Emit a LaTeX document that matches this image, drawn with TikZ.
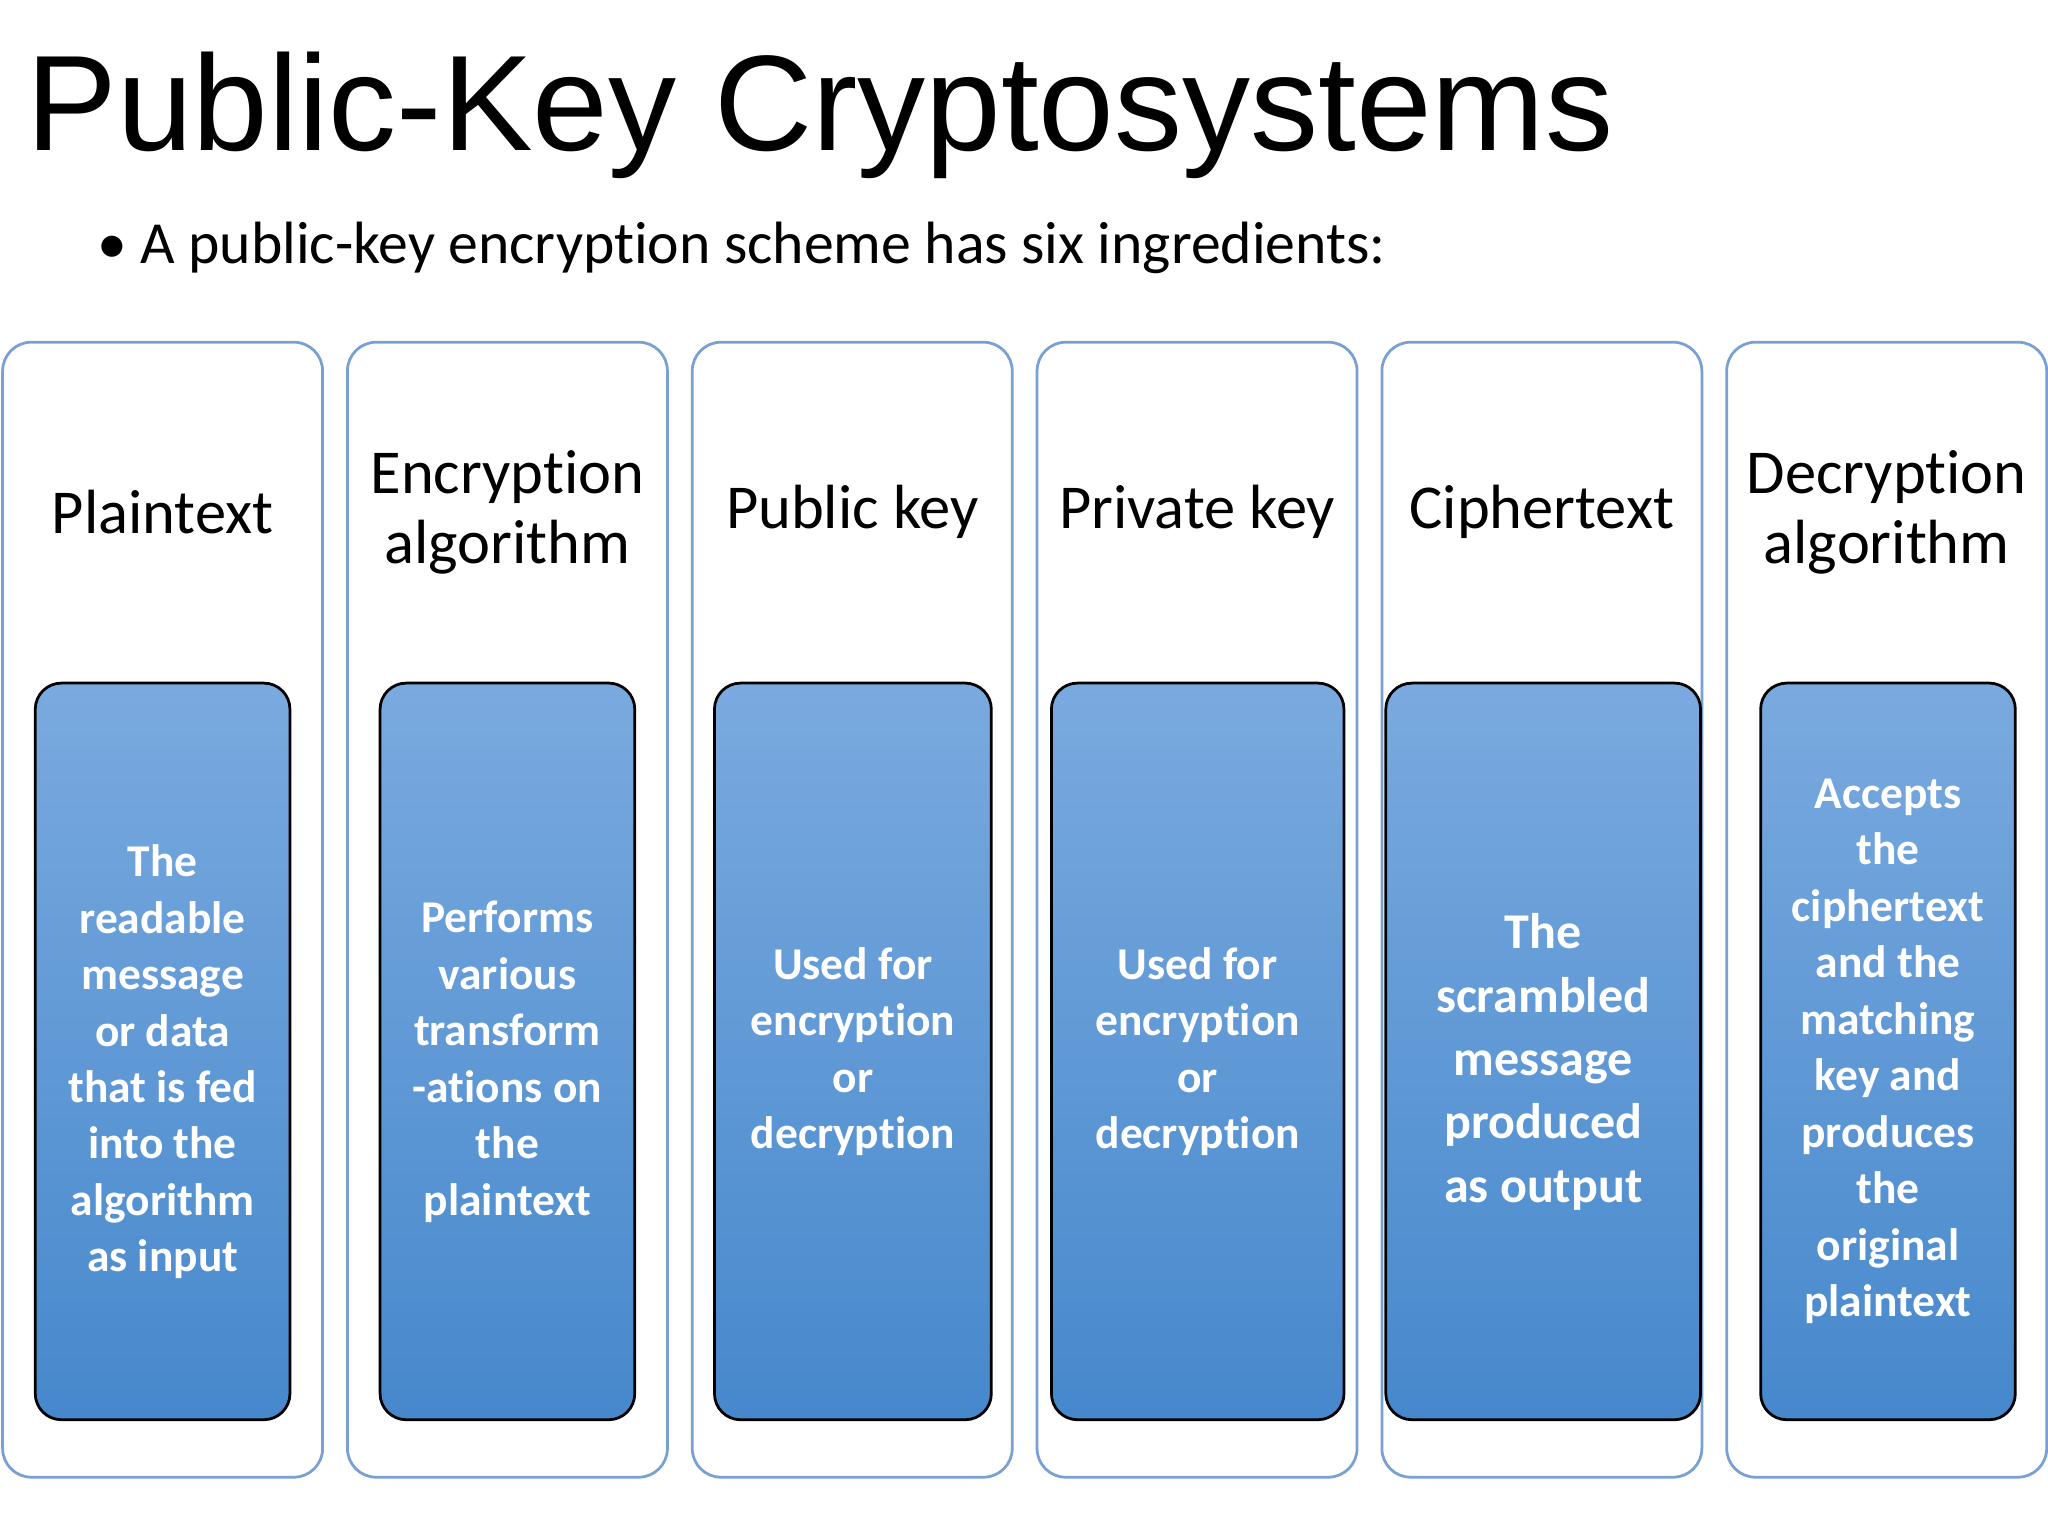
\documentclass[tikz,border=0pt]{standalone}
\usepackage{fontspec}
\usetikzlibrary{calc}
\setmainfont[Ligatures=NoCommon]{Carlito}
\newfontfamily\titlefont{Liberation Sans}
\begin{document}
\begin{tikzpicture}[x=0.01cm,y=-0.01cm,
  outerbox/.style={draw={rgb,255:red,120;green,160;blue,210}, line width=0.6pt, rounded corners=0.22cm},
  innerbox/.style={draw=black, line width=0.6pt, rounded corners=0.2cm, top color={rgb,255:red,122;green,170;blue,223}, bottom color={rgb,255:red,70;green,136;blue,204}},
  head/.style={align=center, font=\fontsize{13.6}{15.2}\selectfont},
  body/.style={align=center, text=white, font=\bfseries\fontsize{9.9}{12.3}\selectfont}]
\useasboundingbox[fill=white] (0,0) rectangle (1568,1176);
\node[anchor=west, font=\titlefont\fontsize{29.6}{34}\selectfont] (title) at (8,88) {Public-Key Cryptosystems};
\node[anchor=west, font=\fontsize{13}{15}\selectfont] (bullet) at (62,190) {\textbullet\ A public-key encryption scheme has six ingredients:};
\foreach \i/\xa/\xb/\ia/\ib in {1/2/247/27/222, 2/266/511/291/486, 3/530/775/547/759, 4/794/1039/805/1029, 5/1058/1303/1061/1302, 6/1322/1567/1348/1543}{
  \draw[outerbox] (\xa,262) rectangle (\xb,1131);
  \draw[innerbox] (\ia,523) rectangle (\ib,1087);
  \coordinate (h\i) at ({(\xa+\xb)/2},392);
  \coordinate (b\i) at ({(\ia+\ib)/2},805);
}
\node[head] (t1) at (h1) {Plaintext};
\node[head] (t2) at (h2) {Encryption\\algorithm};
\node[head] (t3) at (h3) {Public key};
\node[head] (t4) at (h4) {Private key};
\node[head] (t5) at (h5) {Ciphertext};
\node[head] (t6) at (h6) {Decryption\\algorithm};
\node[body] (d1) at ($(b1)+(0,8)$) {The\\readable\\message\\or data\\that is fed\\into the\\algorithm\\as input};
\node[body] (d2) at ($(b2)+(0,8)$) {Performs\\various\\transform\\-ations on\\the\\plaintext};
\node[body] (d3) at (b3) {Used for\\encryption\\or\\decryption};
\node[body] (d4) at (b4) {Used for\\encryption\\or\\decryption};
\node[body, font=\bfseries\fontsize{10.9}{13.8}\selectfont] (d5) at ($(b5)+(0,8)$) {The\\scrambled\\message\\produced\\as output};
\node[body] (d6) at (b6) {Accepts\\the\\ciphertext\\and the\\matching\\key and\\produces\\the\\original\\plaintext};
\end{tikzpicture}
\end{document}
